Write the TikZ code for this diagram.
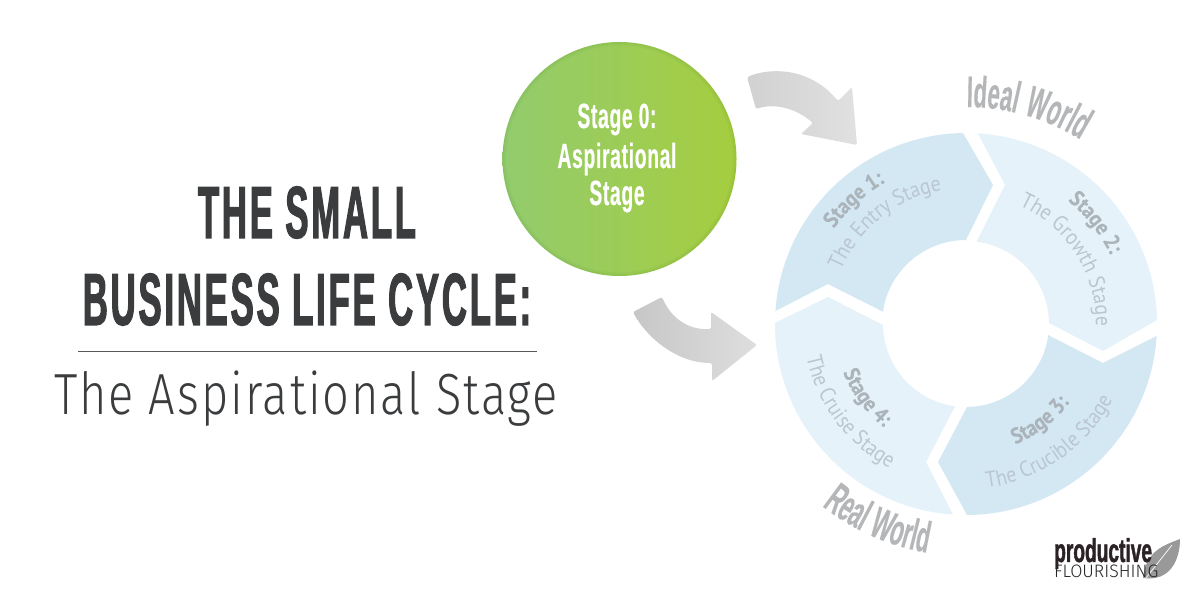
\documentclass[tikz,border=0pt]{standalone}
\usepackage{fontspec}
\usetikzlibrary{decorations.text}
\setmainfont{Liberation Sans}
\newfontfamily\titlefont[FakeStretch=0.47,FakeBold=1.4,LetterSpace=3.7]{Liberation Sans Bold}
\newfontfamily\circfont[FakeStretch=0.55,FakeBold=0.4,LetterSpace=2]{Liberation Sans Bold}
\newfontfamily\subfont[FakeStretch=0.81,LetterSpace=3.4]{Fira Sans Light}
\newfontfamily\din[FakeStretch=0.9]{PT Sans}
\newfontfamily\dinb[FakeStretch=0.9,FakeBold=0.2]{PT Sans Bold}
\newfontfamily\worldfont[FakeStretch=0.5,FakeBold=0.2,LetterSpace=3]{Liberation Sans Bold}
\newfontfamily\logofont[FakeStretch=0.58,FakeBold=1.2]{Liberation Sans Bold}
\newfontfamily\logothin[FakeStretch=0.98]{Fira Sans Light}
\definecolor{segdark}{HTML}{D4E8F4}
\definecolor{seglight}{HTML}{E5F2FA}
\definecolor{labelbold}{HTML}{ABB4BA}
\definecolor{labelthin}{HTML}{BAC7D0}
\definecolor{worldgrey}{HTML}{B4B6B8}
\definecolor{titlegrey}{HTML}{3A3C3E}
\newcommand{\arctext}[5]{%
  \path[decorate,decoration={text along path,text align=center,text={|#4|#5}}]
    (#2:#1) arc[start angle=#2,end angle=#3,radius=#1];}
\tikzset{titletext/.style={anchor=base,text=titlegrey,font=\titlefont\fontsize{74}{74}\selectfont},
  circtext/.style={anchor=base,text=white,font=\circfont\fontsize{35}{35}\selectfont}}
\begin{document}
\begin{tikzpicture}[x=1pt,y=1pt]
\useasboundingbox (0,0) rectangle (1200,600);
\fill[white] (0,0) rectangle (1200,600);
% title
\node[titletext] (t1) at (307,362) {THE SMALL};
\node[titletext] (t2) at (307,275) {BUSINESS LIFE CYCLE:};
\draw[black!65,line width=0.8pt] (78,249) -- (537,249);
\node[anchor=base,text=titlegrey,font=\subfont\fontsize{58}{58}\selectfont] (t3) at (306,185) {The Aspirational Stage};
% circle
\shade[left color={rgb,255:red,147;green,204;blue,110},right color={rgb,255:red,166;green,205;blue,64}] (619.5,441) circle (117);
\foreach \r/\o in {116.5/.07,115.5/.05,114.5/.03,113.5/.02}
  \draw[black!70!green,opacity=\o,line width=1pt] (619.5,441) circle (\r);
\node[circtext] (s0a) at (617,472) {Stage 0:};
\node[circtext] (s0b) at (617,432) {Aspirational};
\node[circtext] (s0c) at (617,395) {Stage};
% arrows
\shade[left color=black!18,right color=black!12,rounded corners=2pt]
  (747,523) .. controls (775,534) and (812,530) .. (838,499) -- (852,513) -- (857,455) -- (801,466) -- (813,477) .. controls (795,492) and (775,497) .. (756,491) -- cycle;
\shade[left color=black!22,right color=black!13,rounded corners=2pt]
  (662,303) .. controls (672,280) and (690,270) .. (711,271) -- (711,288) -- (757,255) -- (712,219) -- (712,237) .. controls (675,237) and (645,265) .. (633,288) -- cycle;
% ring
\begin{scope}[shift={(966,276)}]
\fill[segdark] (176.1:191) arc[start angle=176.1,end angle=90.9,radius=191] -- (27,139) -- (90:84) arc[start angle=90,end angle=171.6,radius=84] -- (-138,40) -- cycle;
\fill[seglight] (86.4:191) arc[start angle=86.4,end angle=1.2,radius=191] -- (137,-27) -- (0.7:83) arc[start angle=0.7,end angle=82.7,radius=83] -- (39,139) -- cycle;
\fill[segdark] (-3.6:191) arc[start angle=-3.6,end angle=-89.7,radius=191] -- (-28,-138) -- (-89.3:83) arc[start angle=-89.3,end angle=-7.7,radius=83] -- (137,-39) -- cycle;
\fill[seglight] (266.1:191) arc[start angle=266.1,end angle=179.7,radius=191] -- (-138,27) -- (180.7:83) arc[start angle=180.7,end angle=262.4,radius=83] -- (-40,-138) -- cycle;
% stage labels
\arctext{163}{146}{118}{\dinb\fontsize{22}{22}\selectfont\color{labelbold}}{Stage 1:}
\arctext{136}{158}{99}{\din\fontsize{22}{22}\selectfont\color{labelthin}}{The Entry Stage}
\arctext{160}{52}{24}{\dinb\fontsize{22}{22}\selectfont\color{labelbold}}{Stage 2:}
\arctext{130}{68}{-3}{\din\fontsize{22}{22}\selectfont\color{labelthin}}{The Growth Stage}
\arctext{130}{-72}{-33}{\dinb\fontsize{22}{22}\selectfont\color{labelbold}}{Stage 3:}
\arctext{165}{-87}{-23}{\din\fontsize{22}{22}\selectfont\color{labelthin}}{The Crucible Stage}
\arctext{132}{198}{235}{\dinb\fontsize{22}{22}\selectfont\color{labelbold}}{Stage 4:}
\arctext{163}{187}{247}{\din\fontsize{22}{22}\selectfont\color{labelthin}}{The Cruise Stage}
% world labels
\arctext{217}{97}{51}{\worldfont\fontsize{44}{44}\selectfont\color{worldgrey}}{Ideal World}
\arctext{232}{224}{268}{\worldfont\fontsize{44}{44}\selectfont\color{worldgrey}}{Real World}
\end{scope}
% logo
\fill[black!40] (1143,22) .. controls (1146,50) and (1165,55) .. (1180,61) .. controls (1180,40) and (1170,18) .. cycle;
\draw[white,line width=0.7pt] (1146,22) -- (1172,55);
\node[anchor=base west,inner sep=0pt,text={rgb,255:red,42;green,34;blue,36},font=\logofont\fontsize{33}{33}\selectfont] (lg1) at (1054,38) {productive};
\node[anchor=base west,inner sep=0pt,text=black!85,font=\logothin\fontsize{18}{18}\selectfont] (lg2) at (1054,22) {FLOURISHING};
\end{tikzpicture}
\end{document}
